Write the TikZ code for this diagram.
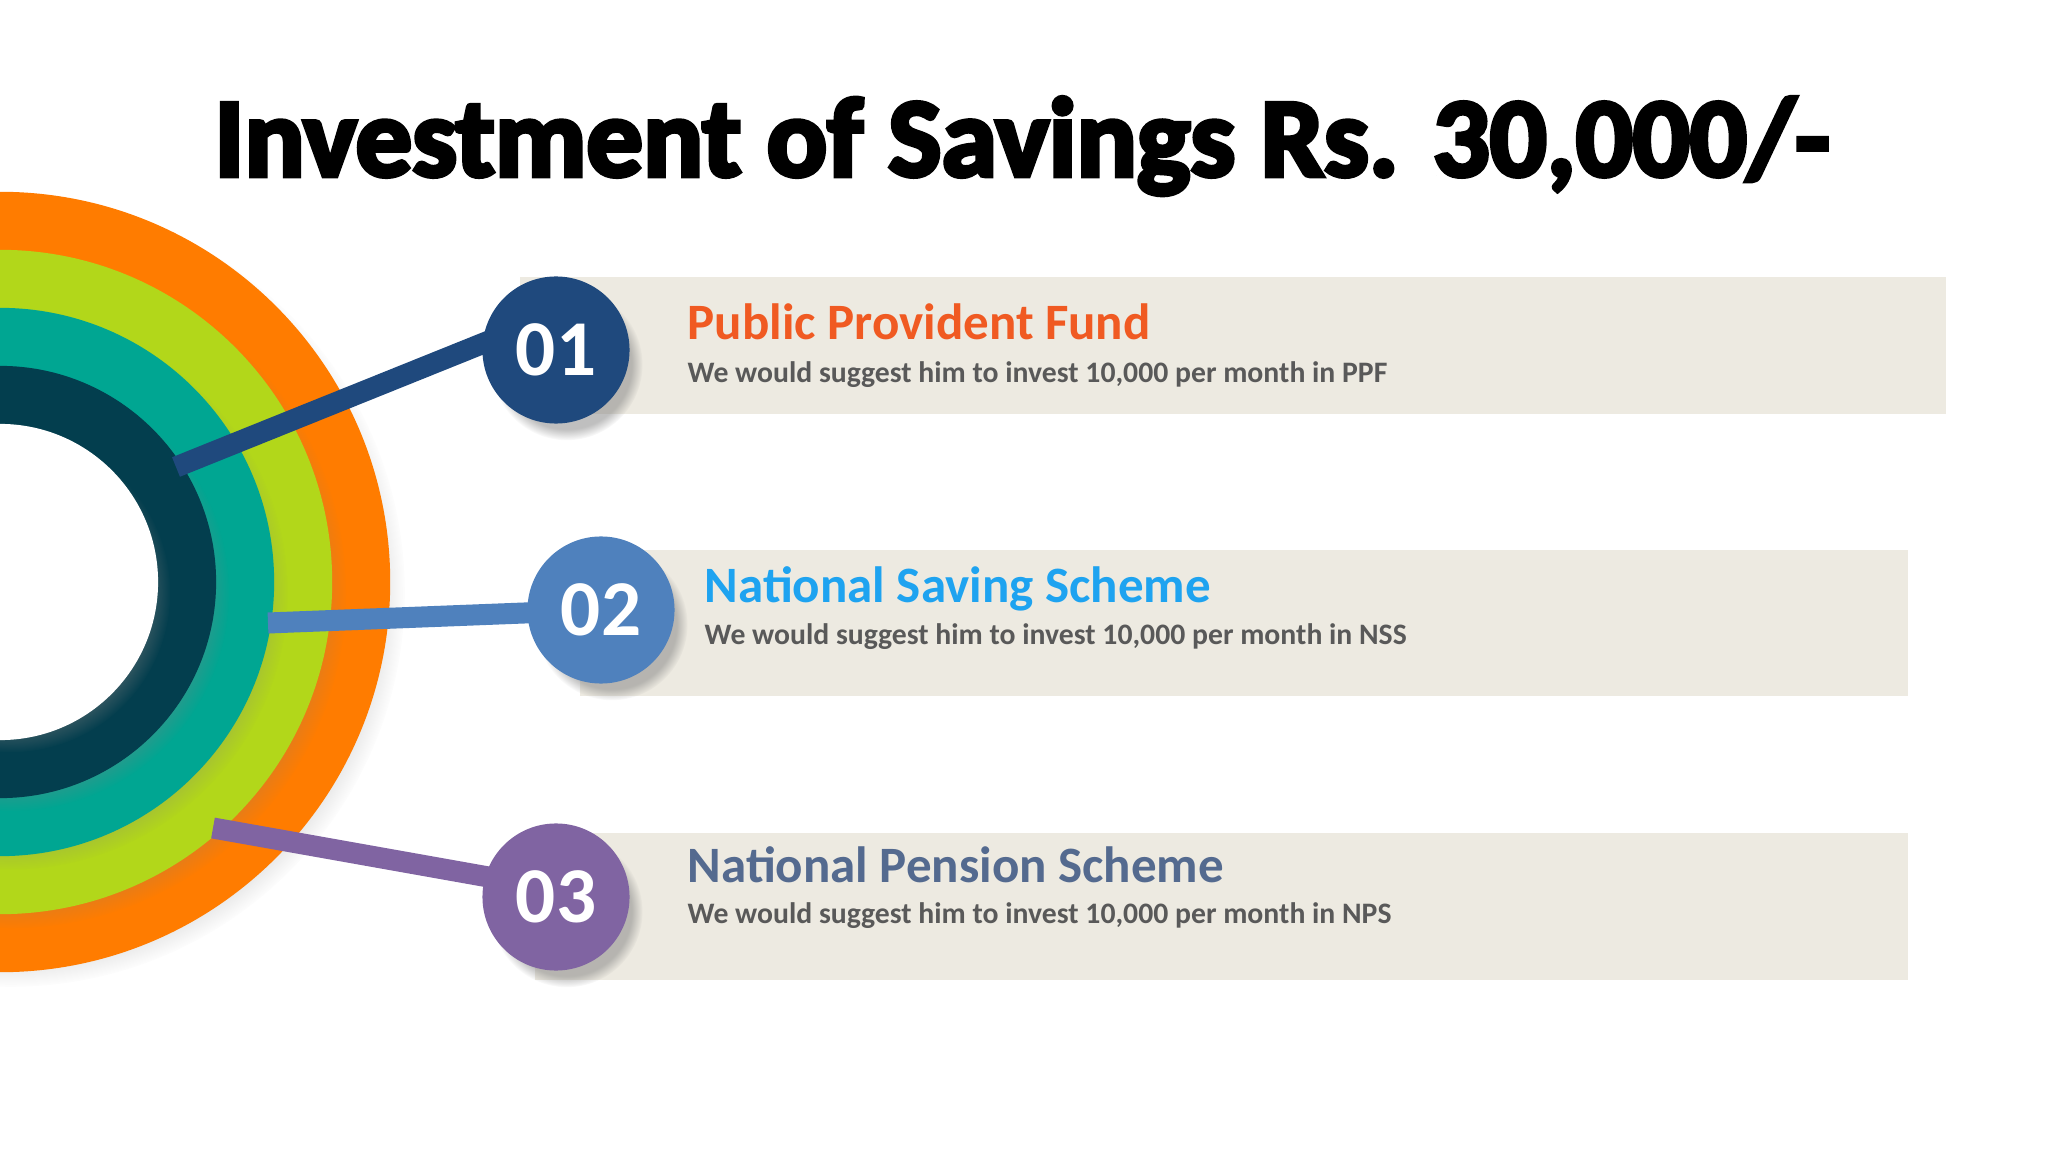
\documentclass[tikz,border=0pt]{standalone}
\usepackage{fontspec}
\setmainfont{Carlito}
\newfontfamily\titlefont{Carlito Bold}[FakeBold=4]
\usetikzlibrary{calc,shadows,fadings}
\definecolor{ringorange}{RGB}{255,124,0}
\definecolor{ringlime}{RGB}{178,215,26}
\definecolor{ringteal}{RGB}{0,166,146}
\definecolor{ringdark}{RGB}{3,62,78}
\definecolor{bandgray}{RGB}{237,234,225}
\definecolor{navyone}{RGB}{31,73,125}
\definecolor{bluetwo}{RGB}{79,129,189}
\definecolor{purplethree}{RGB}{128,100,162}
\definecolor{headorange}{RGB}{240,90,34}
\definecolor{headblue}{RGB}{30,163,240}
\definecolor{headslate}{RGB}{84,106,143}
\definecolor{subgray}{RGB}{89,89,89}
\pgfdeclarelayer{back}
\pgfdeclarelayer{mid}
\pgfsetlayers{back,mid,main}
% one disc of the target, drawn from the outside in
\newcommand{\ringdisc}[2]{
  \fill[#1, circular drop shadow={shadow scale=1.01, shadow xshift=3pt, shadow yshift=-3pt, opacity=.45}] (0,582) circle[radius=#2];
}

\begin{document}
\begin{tikzpicture}[x=0.01cm, y=-0.01cm,
    every node/.style={inner sep=0},
    badge/.style={circle, minimum size=1.47cm, text=white, font=\bfseries\fontsize{22.5}{24}\selectfont,
      circular drop shadow={shadow scale=1.03, shadow xshift=3pt, shadow yshift=-4pt, opacity=.5}},
    band/.style={fill=bandgray},
    bar/.style={line width=0.21cm},
    heading/.style={anchor=base west, font=\bfseries\fontsize{14.5}{16}\selectfont},
    subline/.style={anchor=base west, text=subgray, font=\bfseries\fontsize{8.45}{10}\selectfont}]
  \useasboundingbox (0,0) rectangle (2048,1152);

  % title
  \node[anchor=base] (title) at (1022,176) {\titlefont\fontsize{32}{34}\selectfont Investment of Savings Rs. 30,000/-};

  % numbered badges
  \node[badge, fill=navyone] (b1) at (556,350) {01};
  \node[badge, fill=bluetwo] (b2) at (601,610) {02};
  \node[badge, fill=purplethree] (b3) at (556,897) {03};

  \begin{pgfonlayer}{back}
    \fill[white] (0,0) rectangle (2048,1152);
    \fill[band] (520,277) rectangle (1946,414);
    \fill[band] (580,550) rectangle (1908,696);
    \fill[band] (535,833) rectangle (1908,980);
    \ringdisc{ringorange}{3.9cm}
    \ringdisc{ringlime}{3.32cm}
    \ringdisc{ringteal}{2.74cm}
    \ringdisc{ringdark}{2.16cm}
    \ringdisc{white}{1.58cm}
  \end{pgfonlayer}

  % connectors from the rings
  \coordinate (r1) at (176,467);
  \coordinate (r2) at (268,623);
  \coordinate (r3) at (213,828);
  \begin{pgfonlayer}{mid}
    \draw[bar, navyone] (r1) -- ($(b1.center)+(0,-36)$);
    \draw[bar, bluetwo] (r2) -- (b2.center);
    \draw[bar, purplethree] (r3) -- ($(b3.center)+(0,-8)$);
  \end{pgfonlayer}

  % texts
  \node[heading, text=headorange] (h1) at (687,340) {Public Provident Fund};
  \node[subline] (s1) at (687,383) {We would suggest him to invest 10,000 per month in PPF};
  \node[heading, text=headblue] (h2) at (704,603) {National Saving Scheme};
  \node[subline] (s2) at (704,645) {We would suggest him to invest 10,000 per month in NSS};
  \node[heading, text=headslate] (h3) at (687,882) {National Pension Scheme};
  \node[subline] (s3) at (687,923) {We would suggest him to invest 10,000 per month in NPS};
\end{tikzpicture}
\end{document}
